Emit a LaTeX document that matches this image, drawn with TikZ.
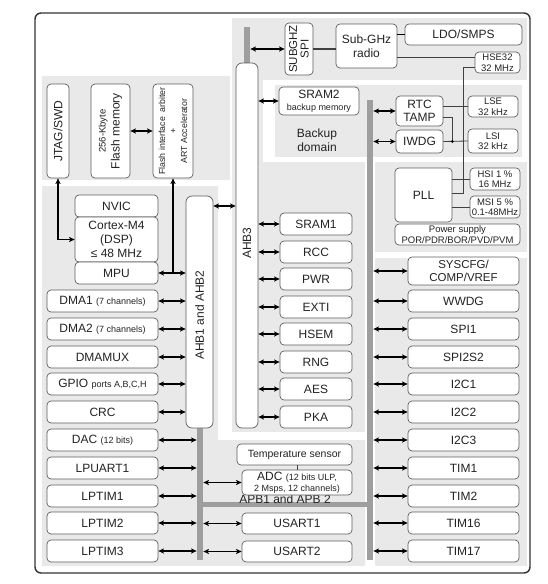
\documentclass[tikz,border=0pt]{standalone}
\usepackage{fontspec}
\setmainfont{Liberation Sans}
\usetikzlibrary{arrows.meta}
\definecolor{panel}{RGB}{233,233,233}
\definecolor{busgray}{RGB}{158,158,158}
\definecolor{edge}{RGB}{95,95,95}
\definecolor{txt}{RGB}{35,35,35}
\newcommand\myfs[2]{\fontsize{#1}{#2}\selectfont}
\newcommand\blk[7][]{%
  \pgfmathsetmacro\myW{#5-#3}\pgfmathsetmacro\myH{#6-#4}%
  \pgfmathsetmacro\myX{(#3+#5)/2}\pgfmathsetmacro\myY{(#4+#6)/2}%
  \node[blk,minimum width=\myW pt,minimum height=\myH pt,#1] (#2) at (\myX,\myY) {#7};}
\newcommand\rblk[7][]{%
  \pgfmathsetmacro\myW{#5-#3}\pgfmathsetmacro\myH{#6-#4}%
  \pgfmathsetmacro\myX{(#3+#5)/2}\pgfmathsetmacro\myY{(#4+#6)/2}%
  \node[blk,minimum width=\myW pt,minimum height=\myH pt] (#2) at (\myX,\myY) {};
  \node[lbl,rotate=90,#1] (#2t) at (\myX,\myY) {#7};}
\begin{document}
\begin{tikzpicture}[x=1pt,y=-1pt,
  >={Stealth[length=5.5pt,width=5pt,inset=1.2pt]},
  blk/.style={draw=edge, fill=white, rounded corners=4pt, line width=0.7pt, inner sep=0pt, align=center, text=txt, font=\myfs{12}{13}},
  bar/.style={rounded corners=6pt},
  bus/.style={fill=busgray, draw=none, sharp corners},
  small/.style={font=\myfs{9.5}{10.5}},
  lbl/.style={text=txt, font=\myfs{12}{14}, align=center, inner sep=0pt},
  arr/.style={<->, line width=1.1pt, black},
  wire/.style={line width=0.8pt, draw=black!75},
]
\useasboundingbox (0,0) rectangle (547,584);
% panels
\fill[panel] (232,18) rectangle (527,80);
\fill[panel] (232,80) rectangle (263,162);
\fill[panel] (275,85) rectangle (522,157);
\fill[panel] (232,162) rectangle (365,432);
\fill[panel] (375,162) rectangle (527,252);
\fill[panel] (375,258) rectangle (527,566);
\fill[panel] (42,76) rectangle (230,180);
\fill[panel] (42,186) -- (218,186) -- (218,440) -- (365,440) -- (365,566) -- (42,566) -- cycle;
% outer border
\draw[line width=1.4pt, draw=black!80, rounded corners=6pt] (35,13) rectangle (530,573);
% buses
\blk[bus]{topbar}{244}{27}{250}{63}{}
\blk[bus]{rbus}{367}{100}{373}{560}{}
\blk[bus]{lbus}{197}{428}{203}{560}{}
\blk[bus]{apb}{197}{502}{373}{507}{}
\node[lbl] (apblbl) at (285,499) {APB1 and APB 2};
% bars
\blk[bar]{ahb3}{236}{63}{258}{428}{}
\node[lbl,rotate=90] (ahb3lbl) at (247,243) {AHB3};
\blk[bar]{ahb12}{186}{196}{213}{428}{}
\node[lbl,rotate=90] (ahb12lbl) at (199.5,315) {AHB1 and AHB2};
% top region
\rblk[font=\myfs{11.5}{11.5}]{subghz}{285}{23}{313}{75}{SUBGHZ\\SPI}
\blk[font=\myfs{12}{14}]{radio}{336}{24}{397}{68}{Sub-GHz\\radio}
\blk{ldo}{405}{24}{522}{45}{LDO/SMPS}
\blk[small]{hse}{475}{52}{520}{73}{HSE32\\32 MHz}
% backup domain
\blk[font=\myfs{12}{12}]{sram2}{279}{87}{359}{115}{SRAM2\\{\myfs{9}{10}backup memory}}
\node[lbl] (bkp) at (317,140) {Backup\\domain};
\blk[font=\myfs{12}{13}]{rtc}{396}{96}{443}{126}{RTC\\TAMP}
\blk{iwdg}{396}{130}{443}{153}{IWDG}
\blk[small]{lse}{468}{96}{518}{117}{LSE\\32 kHz}
\blk[small]{lsi}{468}{129}{518}{153}{LSI\\32 kHz}
% clocks
\blk{pll}{395}{168}{452}{222}{PLL}
\blk[small]{hsi}{470}{168}{520}{190}{HSI 1 \%\\16 MHz}
\blk[small]{msi}{470}{196}{520}{218}{MSI 5 \%\\0.1-48MHz}
\blk[small]{psu}{395}{224}{520}{245}{Power supply\\POR/PDR/BOR/PVD/PVM}
% flash region
\rblk{jtag}{47}{84}{69}{178}{JTAG/SWD}
\rblk{fmem}{91}{84}{130}{178}{{\myfs{9.5}{11}256-Kbyte}\\Flash memory}
\rblk[font=\myfs{8.8}{11}]{fif}{153}{84}{193}{178}{Flash interface\ \ arbiter\\+\\ART Accelerator}
% cpu
\blk{nvic}{75}{195}{158}{217}{NVIC}
\blk[font=\myfs{12}{14}]{cortex}{75}{217}{158}{262}{Cortex-M4\\(DSP)\\≤ 48 MHz}
\blk{mpu}{75}{262}{158}{284}{MPU}
% left column
\blk{dma1}{47}{290}{158}{312}{DMA1 {\myfs{9}{10}(7 channels)}}
\blk{dma2}{47}{318}{158}{340}{DMA2 {\myfs{9}{10}(7 channels)}}
\blk{dmamux}{47}{346}{158}{368}{DMAMUX}
\blk{gpio}{47}{373}{158}{395}{GPIO {\myfs{9}{10}ports A,B,C,H}}
\blk{crc}{47}{401}{158}{423}{CRC}
\blk{dac}{47}{429}{158}{451}{DAC {\myfs{9}{10}(12 bits)}}
\blk{lpuart}{47}{457}{158}{479}{LPUART1}
\blk{lptim1}{47}{485}{158}{507}{LPTIM1}
\blk{lptim2}{47}{512}{158}{534}{LPTIM2}
\blk{lptim3}{47}{540}{158}{562}{LPTIM3}
% AHB3 column
\blk{sram1}{280}{213}{352}{235}{SRAM1}
\blk{rcc}{280}{241}{352}{263}{RCC}
\blk{pwr}{280}{268}{352}{290}{PWR}
\blk{exti}{280}{296}{352}{318}{EXTI}
\blk{hsem}{280}{323}{352}{345}{HSEM}
\blk{rng}{280}{351}{352}{373}{RNG}
\blk{aes}{280}{378}{352}{400}{AES}
\blk{pka}{280}{406}{352}{428}{PKA}
% bottom centre
\blk[font=\myfs{10.5}{12}]{temp}{237}{444}{352}{465}{Temperature sensor}
\blk[font=\myfs{12}{11}]{adc}{242}{470}{352}{495}{ADC {\myfs{9}{10}(12 bits ULP,}\\{\myfs{9}{10}2 Msps, 12 channels)}}
\blk{usart1}{242}{513}{352}{534}{USART1}
\blk{usart2}{242}{541}{352}{562}{USART2}
% right column
\blk[font=\myfs{11.5}{12.5}]{syscfg}{408}{257}{519}{285}{SYSCFG/\\COMP/VREF}
\blk{wwdg}{408}{290}{519}{312}{WWDG}
\blk{spi1}{408}{318}{519}{340}{SPI1}
\blk{spi2s2}{408}{346}{519}{368}{SPI2S2}
\blk{i2c1}{408}{373}{519}{395}{I2C1}
\blk{i2c2}{408}{401}{519}{423}{I2C2}
\blk{i2c3}{408}{429}{519}{451}{I2C3}
\blk{tim1}{408}{457}{519}{479}{TIM1}
\blk{tim2}{408}{485}{519}{507}{TIM2}
\blk{tim16}{408}{512}{519}{534}{TIM16}
\blk{tim17}{408}{540}{519}{562}{TIM17}
% connectors: top
\draw[arr] (subghz.west -| topbar.east) -- (subghz.west);
\draw[wire, line width=1.2pt] (subghz.east) -- (subghz.east -| radio.west);
\draw[wire, line width=1.6pt, black] (radio.east |- ldo.west) -- (ldo.west);
\draw[wire] ([yshift=-11pt]radio.east) coordinate (rh) -- (rh -| hse.west);
\coordinate (hsek) at (463,193);
\draw[wire] ([yshift=-5pt]hse.west) -| (hsek) -- (hsek -| pll.east);
% backup
\draw[arr] (sram2.west -| ahb3.east) -- (sram2.west);
\draw[arr] (rtc.west -| rbus.east) -- (rtc.west);
\draw[arr] (iwdg.west -| rbus.east) -- (iwdg.west);
\draw[wire] (lse.west -| rtc.east) -- (lse.west);
\draw[wire] (iwdg.east) -- (lsi.west);
\coordinate (jn) at ([xshift=9pt]iwdg.east);
\draw[wire] ([yshift=-6pt]rtc.east) -| (jn);
\fill (jn) circle (1.6pt);
\draw[wire] (hsi.west) -- (hsi.west -| pll.east);
\draw[wire] (msi.west) -- (msi.west -| pll.east);
% flash / cpu
\draw[arr] (fmem.east) -- (fif.west);
\draw[arr] (jtag.south) |- (cortex.west);
\draw[arr] (mpu.east) -- (mpu.east -| ahb12.west);
\draw[<-, line width=1.1pt] (fif.south) -- (fif.south |- mpu.east);
\draw[arr] (nvic -| ahb12.east) -- (nvic -| ahb3.west);
% left column
\foreach \n in {dma1,dma2,dmamux,gpio,crc} \draw[arr] (\n.east) -- (\n.east -| ahb12.west);
\foreach \n in {dac,lpuart,lptim1,lptim2,lptim3} \draw[arr] (\n.east) -- (\n.east -| lbus.west);
\draw[arr] (adc.west -| lbus.east) -- (adc.west);
\foreach \n in {usart1,usart2} \draw[arr] (\n.west -| lbus.east) -- (\n.west);
\draw[wire] (adc.north) -- (adc.north |- temp.south);
% AHB3 column
\foreach \n in {sram1,rcc,pwr,exti,hsem,rng,aes,pka} \draw[arr] (\n.west -| ahb3.east) -- (\n.west);
% right column
\foreach \n in {syscfg,wwdg,spi1,spi2s2,i2c1,i2c2,i2c3,tim1,tim2,tim16,tim17} \draw[arr] (\n.west -| rbus.east) -- (\n.west);
\end{tikzpicture}
\end{document}
